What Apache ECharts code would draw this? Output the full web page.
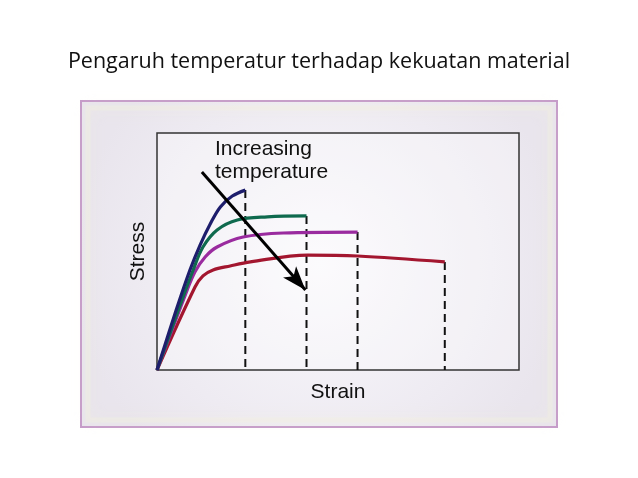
<!DOCTYPE html>
<html>
<head>
<meta charset="utf-8">
<style>
  html, body { margin: 0; padding: 0; background: #ffffff; }
  #chart-container { width: 638px; height: 478px; }
</style>
<script src="https://cdn.jsdelivr.net/npm/echarts@6/dist/echarts.min.js"></script>
</head>
<body>
<div id="chart-container"></div>
<script>
// stress-strain curves (strain 0-100, stress 0-100)
var navyCurve = [[0, 0], [5.3, 25.3], [9.1, 42.2], [11.9, 52.7], [14.7, 61.6], [17.5, 68.8], [20.8, 73.4], [24.4, 75.9]];
var greenCurve = [[0, 0], [6.4, 27.4], [10.0, 42.2], [12.7, 51.9], [16.6, 59.1], [22.2, 63.3], [30.5, 64.6], [41.3, 65.0]];
var purpleCurve = [[0, 0], [7.8, 31.6], [10.5, 41.4], [13.3, 47.7], [16.6, 51.9], [23.8, 56.1], [34.9, 57.8], [55.4, 58.2]];
var redCurve = [[0, 0], [10.5, 35.0], [12.7, 39.7], [15.5, 42.2], [20.2, 43.9], [25.8, 45.6], [41.6, 48.5], [55.4, 48.1], [79.5, 45.6]];
var curveColors = ['#1d1d6c', '#0f6a4e', '#9a2b9f', '#a3162f'];
// dashed drop lines at fracture strain
var fractureX = [24.4, 41.3, 55.4, 79.5];
var fractureY = [75.9, 65.0, 58.2, 45.6];
// arrow "increasing temperature"
var arrowStart = [12.4, 83.5];
var arrowEnd = [41.0, 33.8];

var dom = document.getElementById('chart-container');
var myChart = echarts.init(dom, null, { renderer: 'canvas' });

var curves = [navyCurve, greenCurve, purpleCurve, redCurve];
var series = [];

for (let i = 0; i < fractureX.length; i++) {
  series.push({
    type: 'line',
    data: [[fractureX[i], fractureY[i]], [fractureX[i], 0]],
    symbol: 'none',
    lineStyle: { color: '#111', width: 2, type: [8, 5] },
    z: 2
  });
}

// red first so navy ends up on top
for (let i = curves.length - 1; i >= 0; i--) {
  series.push({
    type: 'line',
    data: curves[i],
    smooth: 0.35,
    symbol: 'none',
    lineStyle: { color: curveColors[i], width: 3.2 },
    z: 3
  });
}

series.push({
  type: 'line',
  data: [],
  markLine: {
    silent: true,
    symbol: ['none', 'arrow'],
    symbolSize: [13, 24],
    label: { show: false },
    lineStyle: { color: '#000', width: 3, type: 'solid' },
    data: [[{ coord: arrowStart }, { coord: arrowEnd }]]
  },
  z: 5
});

var option = {
  animation: false,
  backgroundColor: '#ffffff',
  title: {
    text: 'Pengaruh temperatur terhadap kekuatan material',
    left: 'center',
    top: 46,
    textStyle: { fontFamily: 'Open Sans', fontSize: 21.5, fontWeight: 'normal', color: '#111' }
  },
  graphic: [
    {
      type: 'rect',
      shape: { x: 81, y: 101, width: 476, height: 326 },
      style: {
        fill: {
          type: 'radial', x: 0.5, y: 0.5, r: 0.75,
          colorStops: [
            { offset: 0, color: '#faf9fc' },
            { offset: 0.7, color: '#eeebf2' },
            { offset: 1, color: '#e9e5ed' }
          ]
        },
        stroke: '#c59bc9',
        lineWidth: 2
      },
      z: -10
    },
    {
      type: 'rect',
      shape: { x: 88, y: 108, width: 462, height: 312 },
      style: {
        fill: 'none',
        stroke: 'rgba(244,242,222,0.35)',
        lineWidth: 5,
        shadowBlur: 14,
        shadowColor: 'rgba(240,238,212,0.8)'
      },
      z: -9
    },
    {
      type: 'text',
      left: 215,
      top: 138,
      style: {
        text: 'Increasing\ntemperature',
        font: '21px "Liberation Sans"',
        lineHeight: 23,
        fill: '#111'
      },
      z: 10
    }
  ],
  grid: {
    left: 157, right: 119, top: 133, bottom: 108,
    show: true,
    borderColor: '#333',
    borderWidth: 1.5,
    backgroundColor: 'rgba(255,255,255,0.3)'
  },
  xAxis: {
    type: 'value', min: 0, max: 100,
    name: 'Strain', nameLocation: 'middle', nameGap: 12,
    nameTextStyle: { fontFamily: 'Liberation Sans', fontSize: 21, color: '#111' },
    axisLine: { show: false }, axisTick: { show: false },
    axisLabel: { show: false }, splitLine: { show: false }
  },
  yAxis: {
    type: 'value', min: 0, max: 100,
    name: 'Stress', nameLocation: 'middle', nameGap: 8,
    nameTextStyle: { fontFamily: 'Liberation Sans', fontSize: 21, color: '#111' },
    axisLine: { show: false }, axisTick: { show: false },
    axisLabel: { show: false }, splitLine: { show: false }
  },
  series: series
};

myChart.setOption(option);
window.addEventListener('resize', myChart.resize);
</script>
</body>
</html>
